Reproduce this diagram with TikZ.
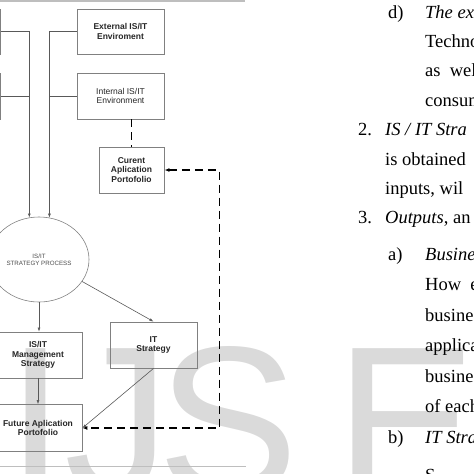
\documentclass[tikz,border=0pt]{standalone}
\usepackage{fontspec}
\setmainfont{Liberation Serif}
\newfontfamily\arialf{Liberation Sans}
\usetikzlibrary{shapes.geometric,arrows.meta,calc}
\definecolor{boxgray}{HTML}{808080}
\definecolor{wmgray}{HTML}{DADADA}
\definecolor{rulegray}{HTML}{BEBEBE}
\begin{document}
\begin{tikzpicture}[x=1pt,y=-1pt,
 box/.style={draw=boxgray, line width=0.9pt, minimum width=87pt, minimum height=46pt, inner sep=1pt, align=center, font=\arialf\bfseries\fontsize{8.5}{9.6}\selectfont, text=black!85},
 conn/.style={draw=black!65, line width=0.6pt},
 arr/.style={conn, -{Latex[length=4pt,width=3pt]}},
 dashc/.style={draw=black, line width=1.5pt, dash pattern=on 8pt off 5pt},
 dtip/.style={{Latex[length=5pt,width=4pt]}-{Latex[length=5pt,width=4pt]}},
 wm/.style={anchor=base west, inner sep=0, text=wmgray, font=\arialf\fontsize{212}{212}\selectfont},
 body/.style={anchor=base west, inner sep=0, font=\fontsize{18.5}{20}\selectfont},
]
\useasboundingbox (0,0) rectangle (474,474);
\clip (0,0) rectangle (474,474);
% watermark
\node[wm] (wI) at (6,494) {I};
\node[wm] (wJ) at (64,494) {J};
\node[wm] (wS) at (157,494) {S};
\node[wm] (wE) at (335,494) {E};
% page rules
\fill[rulegray] (0,0) rectangle (245,2.2);
\draw[rulegray, line width=0.8pt] (0,466) -- (246,466);
% boxes
\node[box, minimum width=60pt, minimum height=45pt] (leftA) at (-29.5,31.5) {};
\node[box, minimum width=60pt, minimum height=46pt] (leftB) at (-29.5,96) {};
\node[box, minimum height=45pt] (ext) at (120.5,31.5) {External IS/IT\\Enviroment};
\node[box, font=\arialf\fontsize{8.5}{9.6}\selectfont] (int) at (120.5,96) {Internal IS/IT\\Environment};
\node[box, minimum width=65pt] (cur) at (131.5,170) {Curent\\Aplication\\Portofolio};
\node[ellipse, draw=boxgray, line width=0.6pt, minimum width=100pt, minimum height=85pt, inner sep=0pt, align=center, font=\arialf\fontsize{6.2}{7.4}\selectfont, text=black!70] (proc) at (39,259.5) {IS/IT\\STRATEGY PROCESS};
\node[box, minimum width=88pt, minimum height=46pt] (mgmt) at (38,355) {IS/IT\\Management\\Strategy};
\node[box] (itstr) at (153.5,345) {IT\\Strategy};
\node[box, minimum width=88pt, minimum height=47pt] (fut) at (38,428) {Future Aplication\\Portofolio};
% connectors
\draw[arr] (ext.west) -| (proc.76.5);
\draw[conn] (int.west) -- (int.west -| proc.76.5);
\draw[arr] (leftA.east) -| (proc.103.5);
\draw[conn] (leftB.east) -- (leftB.east -| proc.103.5);
\draw[dashc] (int.south -| cur.north) -- (cur.north);
\draw[arr] (proc.south) -- (proc.south |- mgmt.north);
\draw[arr] (mgmt.south) -- (fut.north);
\draw[arr] (proc.-27) -- (itstr.north);
\draw[arr] (itstr.south) -- (fut.east);
\draw[dashc, dtip] (cur.east) -- ++(55,0) coordinate (dcorner) |- (fut.east);
% body text
\node[body] (t1a) at (388,18) {d)};
\node[body] (t1b) at (425,18) {\itshape The ex};
\node[body] (t2) at (425,47.4) {Techno};
\node[body] (t3) at (425,76.8) {as\ \ wel};
\node[body] (t4) at (425,106.2) {consum};
\node[body] (t5a) at (358,135.6) {2.};
\node[body] (t5b) at (385,135.6) {\itshape IS / IT Stra};
\node[body] (t6) at (385,165) {is obtained};
\node[body] (t7) at (385,194.4) {inputs, wil};
\node[body] (t8a) at (358,223.8) {3.};
\node[body] (t8b) at (385,223.8) {\textit{Outputs}, an};
\node[body] (t9a) at (388,260) {a)};
\node[body] (t9b) at (425,260) {\itshape Busine};
\node[body] (t10) at (425,290.5) {How\ \ e};
\node[body] (t11) at (425,321) {busine};
\node[body] (t12) at (425,351.5) {applica};
\node[body] (t13) at (425,382) {busine};
\node[body] (t14) at (425,412.5) {of each};
\node[body] (t15a) at (388,443) {b)};
\node[body] (t15b) at (425,443) {\itshape IT Stra};
\node[body] (t16) at (425,481) {S};
\end{tikzpicture}
\end{document}
